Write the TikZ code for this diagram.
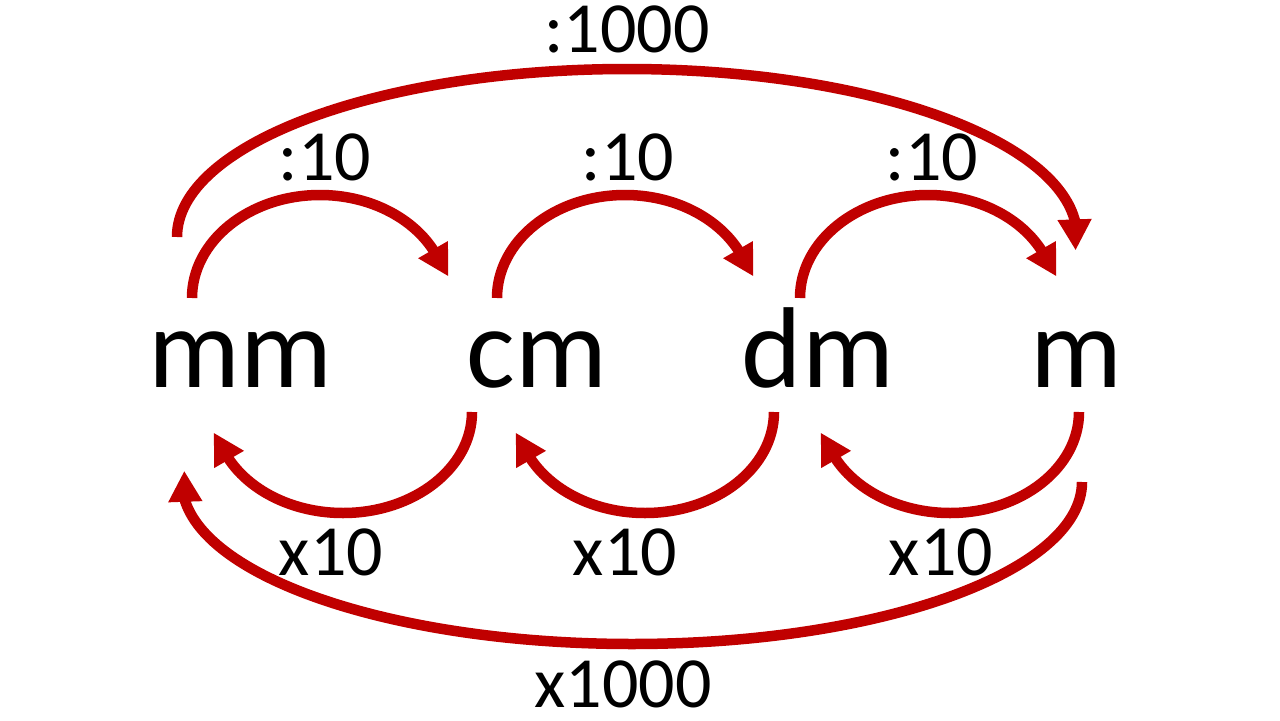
\documentclass[tikz,border=0pt]{standalone}
\usepackage{fontspec}
\setmainfont{Carlito}
\usepackage{tikz}
\usetikzlibrary{arrows.meta}

\definecolor{convred}{HTML}{C00000}

\begin{document}
\begin{tikzpicture}[x=0.5pt, y=0.5pt,
    unit/.style={font=\fontsize{57.5}{57.5}\selectfont, anchor=base, inner sep=0pt},
    factor/.style={font=\fontsize{36}{36}\selectfont, anchor=base, inner sep=0pt},
    conv/.style={draw=convred, line width=5.25pt, -{Triangle[length=15.5pt, width=16pt]}}]
    \useasboundingbox (0,0) rectangle (1280,720);

    % units
    \node[unit] (mm) at (240,333) {mm};
    \node[unit] (cm) at (537,333) {cm};
    \node[unit] (dm) at (818,333) {dm};
    \node[unit] (m)  at (1076,333) {m};

    % factors
    \node[factor] (div1) at (325,540) {:10};
    \node[factor] (div2) at (628,540) {:10};
    \node[factor] (div3) at (932,540) {:10};
    \node[factor] (divall) at (627,668) {:1000};
    \node[factor] (mul1) at (331,145) {x10};
    \node[factor] (mul2) at (625,145) {x10};
    \node[factor] (mul3) at (941,145) {x10};
    \node[factor] (mulall) at (623,13) {x1000};

    % where the arrows start
    \coordinate (mmup) at (192,422);
    \coordinate (cmup) at (497,422);
    \coordinate (dmup) at (800,422);
    \coordinate (cmdown) at (472,308);
    \coordinate (dmdown) at (774,308);
    \coordinate (mdown) at (1079,308);
    \coordinate (mmfar) at (177,483);
    \coordinate (mfar) at (1082,238);

    \draw[conv] (mmup) arc[start angle=180, end angle=28, x radius=128, y radius=103] -- ++(-60:31);
    \draw[conv] (cmup) arc[start angle=180, end angle=28, x radius=128, y radius=103] -- ++(-60:31);
    \draw[conv] (dmup) arc[start angle=180, end angle=28, x radius=128, y radius=103] -- ++(-60:31);

    \draw[conv] (cmdown) arc[start angle=0, end angle=-152, x radius=129, y radius=101] -- ++(120:31);
    \draw[conv] (dmdown) arc[start angle=0, end angle=-152, x radius=129, y radius=101] -- ++(120:31);
    \draw[conv] (mdown) arc[start angle=0, end angle=-152, x radius=129, y radius=101] -- ++(120:31);

    \draw[conv] (mmfar) arc[start angle=180, end angle=6, x radius=450, y radius=168] -- ++(-88:31);
    \draw[conv] (mfar) arc[start angle=0, end angle=-173, x radius=450, y radius=162] -- ++(92:31);
\end{tikzpicture}
\end{document}
